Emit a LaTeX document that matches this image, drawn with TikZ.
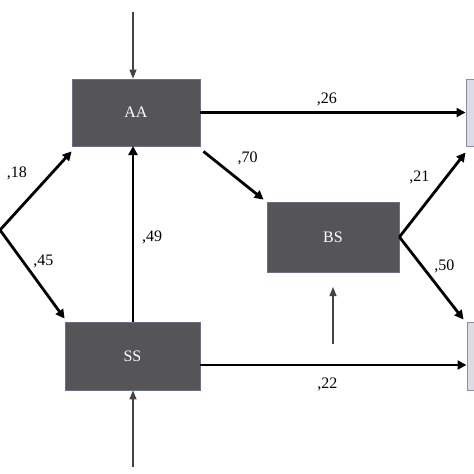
\documentclass[tikz,border=0pt]{standalone}
\usepackage{fontspec}
\setmainfont{Liberation Serif}
\usetikzlibrary{arrows.meta}
\definecolor{boxfill}{HTML}{555558}
\definecolor{boxline}{HTML}{6A7088}
\definecolor{lightfill}{HTML}{DCDCE6}
\definecolor{lightline}{HTML}{8A8CA8}
\definecolor{thingray}{HTML}{444444}
\begin{document}
\begin{tikzpicture}[x=1pt,y=-1pt,
  darkbox/.style={draw=boxline,fill=boxfill,line width=0.8pt,text=white,
    font=\fontsize{16}{16}\selectfont,inner sep=0pt},
  lightbox/.style={draw=lightline,fill=lightfill,line width=1pt,inner sep=0pt},
  thick arrow/.style={line width=2.8pt,-{Triangle[length=9pt,width=9pt]}},
  thin arrow/.style={line width=1.2pt,draw=thingray,-{Triangle[length=9pt,width=7pt]},color=thingray},
  lbl/.style={font=\fontsize{16}{16}\selectfont,inner sep=0pt,pos=0.5}]
\useasboundingbox (0,0) rectangle (474,474);
\fill[white] (0,0) rectangle (474,474);
\clip (0,0) rectangle (474,474);
% boxes
\node[darkbox,minimum width=128pt,minimum height=67pt] (AA) at (136,112.5) {AA};
\node[darkbox,minimum width=135pt,minimum height=68pt] (SS) at (132.5,356) {SS};
\node[darkbox,minimum width=132pt,minimum height=70pt] (BS) at (333,237) {BS};
\node[lightbox,minimum width=40pt,minimum height=67pt] (R1) at (486,112.5) {};
\node[lightbox,minimum width=40pt,minimum height=68pt] (R2) at (487,356) {};
% free ends
\coordinate (L) at (0,230);
\coordinate (topAA) at (133,12);
\coordinate (botSS) at (133,467);
\coordinate (botBS) at (333,344);
% thin arrows
\draw[thin arrow] (topAA) -- (topAA |- AA.north);
\draw[thin arrow] (botSS) -- (botSS |- SS.south);
\draw[thin arrow] (botBS) -- (333,287);
% thick arrows
\draw[thick arrow] (L) -- ([shift={(0,5)}]AA.south west) node[lbl,shift={(-19,-17)}] {,18};
\draw[thick arrow] (L) -- ([shift={(0,-3)}]SS.north west) node[lbl,shift={(11,-13)}] {,45};
\draw[thick arrow] (133,322) -- (133,146) node[lbl,shift={(19,3)}] {,49};
\draw[thick arrow] (AA.east) -- (R1.west) node[lbl,shift={(-6,-13)}] {,26};
\draw[thick arrow] ([shift={(3,5)}]AA.south east) -- ([shift={(-3,-2)}]BS.north west) node[lbl,shift={(14,-17)}] {,70};
\draw[thick arrow] (SS.east |- 0,365) -- (R2.west |- 0,365) node[lbl,shift={(-6,19)}] {,22};
\draw[thick arrow] (BS.east) -- ([shift={(0,6)}]R1.south west) node[lbl,shift={(-13,-17)}] {,21};
\draw[thick arrow] (BS.east) -- ([shift={(-3,-2)}]R2.north west) node[lbl,shift={(13,-12)}] {,50};
\end{tikzpicture}
\end{document}
